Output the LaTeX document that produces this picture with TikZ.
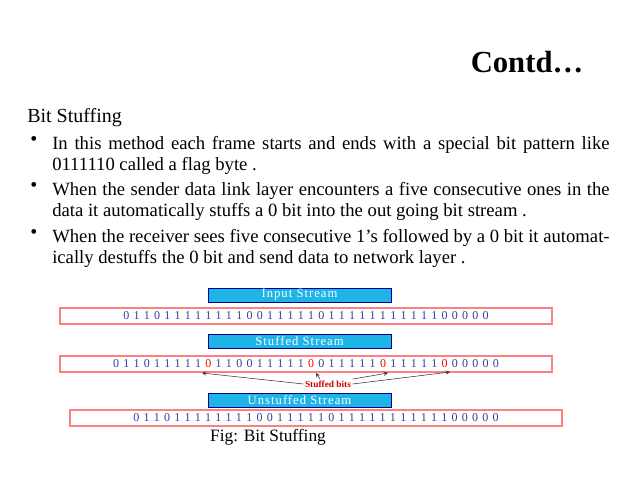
\documentclass[tikz,border=0pt]{standalone}
\usepackage{fontspec}
\setmainfont{Liberation Serif}
\definecolor{hcyan}{HTML}{1EB4E6}
\definecolor{digit}{HTML}{3A3A9A}
\def\bitsx#1{\ifx#1\relax\else\ifx#1R\makebox[7.7pt]{\textcolor{red}{0}}\else\makebox[7.7pt]{#1}\fi\expandafter\bitsx\fi}
\begin{document}
\begin{tikzpicture}[x=0.75pt,y=-0.75pt,
  hdr/.style={draw=blue!60!black,fill=hcyan,text=white,minimum width=137pt,minimum height=10.5pt,inner sep=0pt,font=\fontsize{9.5}{10}\selectfont\addfontfeature{LetterSpace=8}},
  row/.style={draw=red!50,line width=0.8pt,minimum width=369pt,minimum height=12pt,inner sep=0pt,text=digit,font=\fontsize{9}{10}\selectfont},
  bul/.style={anchor=north west,text width=418pt,align=justify,font=\fontsize{14}{15.8}\selectfont,inner sep=0pt},
  dot/.style={anchor=north west,inner sep=0pt,font=\fontsize{15}{15}\selectfont},
  arr/.style={-stealth,thin,black!80}]
\useasboundingbox (0,0) rectangle (638,478);
\node[font=\fontsize{23}{26}\selectfont\bfseries] (t) at (527,62) {Contd…};
\node[anchor=west,font=\fontsize{15}{18}\selectfont,inner sep=0pt] (bs) at (27,118) {Bit Stuffing};
\node[dot] (b1d) at (30,136) {\textbullet};
\node[bul] (b1) at (52,136) {In this method each frame starts and ends with a special bit pattern like 0111110 called a flag byte .};
\node[dot] (b2d) at (30,182) {\textbullet};
\node[bul] (b2) at (52,182) {When the sender data link layer encounters a five consecutive ones in the data it automatically stuffs a 0 bit into the out going bit stream .};
\node[dot] (b3d) at (30,229) {\textbullet};
\node[bul] (b3) at (52,229) {When the receiver sees five consecutive 1’s followed by a 0 bit it automatically destuffs the 0 bit and send data to network layer .};
\node[hdr] (h1) at (299.5,295) {Input Stream};
\node[row] (r1) at (306,316) {\bitsx 011011111111001111101111111111100000\relax};
\node[hdr] (h2) at (299.5,341) {Stuffed Stream};
\node[row] (r2) at (306,364) {\bitsx 011011111R110011111R011111R11111R00000\relax};
\node[text=red!80!black,font=\fontsize{7}{8}\selectfont\bfseries,inner sep=1pt] (sb) at (328,384) {Stuffed bits};
\coordinate (s1) at (202,373);
\coordinate (s2) at (316,373);
\coordinate (s3) at (388,373);
\coordinate (s4) at (450,372);
\draw[arr] (sb.west) -- (s1);
\draw[arr] (sb.north) ++(-8,0) -- (s2);
\draw[arr] (sb.north east) -- (s3);
\draw[arr] (sb.east) -- (s4);
\node[hdr] (h3) at (299.5,400) {Unstuffed Stream};
\node[row] (r3) at (316,418) {\bitsx 011011111111001111101111111111100000\relax};
\node[font=\fontsize{13}{15}\selectfont,inner sep=0pt] (fig) at (268,437) {Fig: Bit Stuffing};
\end{tikzpicture}
\end{document}
